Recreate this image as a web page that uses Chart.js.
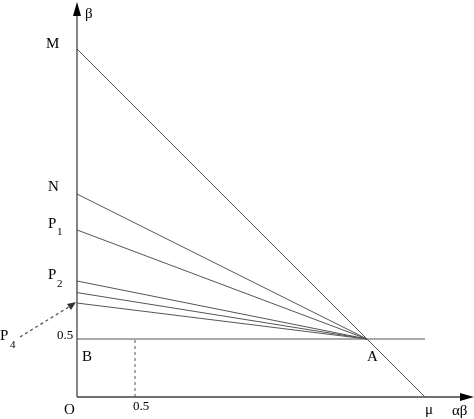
<!DOCTYPE html>
<html><head><meta charset="utf-8">
<script src="https://cdn.jsdelivr.net/npm/chart.js@4"></script>
<style>html,body{margin:0;padding:0;background:#fff}#w{width:474px;height:419px}</style>
</head><body><div id="w"><canvas id="c"></canvas></div>
<script>
const mu = 3.0;
const aX = 2.5;
const half = 0.5;
const intercepts = [3.0, 1.75, 1.44, 1.0, 0.9, 0.81];
const interceptLabels = ["M", "N", "P1", "P2", "", ""];
const datasets = [];
// M line goes to mu on x axis
datasets.push({data:[{x:0,y:intercepts[0]},{x:mu,y:0}]});
for (let i=1;i<intercepts.length;i++) datasets.push({data:[{x:0,y:intercepts[i]},{x:aX,y:half}]});
datasets.push({data:[{x:0,y:half},{x:mu,y:half}]});
datasets.push({data:[{x:half,y:0},{x:half,y:half}],borderDash:[3,3]});
datasets.forEach(d=>{d.borderColor='#555';d.borderWidth=1;d.pointRadius=0;d.showLine=true;d.fill=false;});
const U=116, OX=77, OY=397;
const labelPlugin={id:'lbl',afterDraw(ch){
 const c=ch.ctx,xs=ch.scales.x,ys=ch.scales.y;
 const px=v=>xs.getPixelForValue(v), py=v=>ys.getPixelForValue(v);
 c.save();c.strokeStyle='#444';c.fillStyle='#000';c.lineWidth=1.3;
 // axes
 c.beginPath();c.moveTo(px(0),py(0));c.lineTo(px(0),6);c.moveTo(px(0),py(0));c.lineTo(470,py(0));c.stroke();
 c.beginPath();c.moveTo(px(0),2);c.lineTo(px(0)-4,16);c.lineTo(px(0)+4,16);c.closePath();c.fill();
 c.beginPath();c.moveTo(474,py(0));c.lineTo(460,py(0)-4);c.lineTo(460,py(0)+4);c.closePath();c.fill();
 c.font='15px "Liberation Serif"';c.textBaseline='middle';
 const t=(s,x,y,al)=>{c.textAlign=al||'left';c.fillText(s,x,y);};
 t('β',px(0)+8,14);
 t('M',46,py(intercepts[0])-5);t('N',48,py(intercepts[1])-7);
 t('P',48,py(intercepts[2])-6);c.font='11px "Liberation Serif"';t('1',57,py(intercepts[2])+2);
 c.font='15px "Liberation Serif"';t('P',48,py(intercepts[3])-6);c.font='11px "Liberation Serif"';t('2',57,py(intercepts[3])+3);
 c.font='15px "Liberation Serif"';t('P',0,336);c.font='11px "Liberation Serif"';t('4',10,345);
 c.font='13px "Liberation Serif"';t('0.5',57,py(half)-3);t('0.5',px(half)-2,407);
 c.font='15px "Liberation Serif"';t('B',px(0)+5,py(half)+18);t('A',px(aX),py(half)+18);
 t('O',64,410);t('μ',px(mu),410);t('αβ',452,411);
 c.setLineDash([3,3]);c.strokeStyle='#555';c.beginPath();c.moveTo(20,337);c.lineTo(72,305);c.stroke();c.setLineDash([]);
 c.beginPath();c.moveTo(76,302);c.lineTo(67,304);c.lineTo(71,310);c.closePath();c.fillStyle='#333';c.fill();
 c.restore();}};
new Chart(document.getElementById('c'),{type:'scatter',data:{datasets},
 options:{responsive:true,maintainAspectRatio:false,animation:false,
 layout:{padding:{left:OX,top:0,right:0,bottom:419-OY}},
 plugins:{legend:{display:false},tooltip:{enabled:false}},
 scales:{x:{type:'linear',min:0,max:(474-OX)/U,display:false},y:{type:'linear',min:0,max:OY/U,display:false}}},
 plugins:[labelPlugin]});
</script></body></html>
